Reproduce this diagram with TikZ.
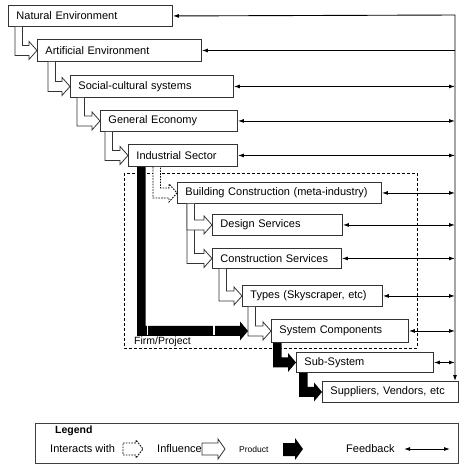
\documentclass[tikz,border=0pt]{standalone}
\usepackage{fontspec}
\setmainfont{Liberation Sans}
\usetikzlibrary{calc,arrows.meta}

\tikzset{
  blk/.style={draw=black!80, line width=0.9pt, anchor=north west, inner xsep=8pt, inner ysep=0pt,
    align=left, font=\fontsize{11}{13}\selectfont},
  lbl/.style={anchor=west, inner sep=0pt, font=\fontsize{11}{13}\selectfont},
  fb/.style={line width=0.9pt, {Latex[length=6pt,width=4pt]}-{Latex[length=6pt,width=4pt]}},
  fbin/.style={line width=0.9pt, {Latex[length=6pt,width=4pt]}-},
  infl/.style={draw=black!80, line width=0.8pt, fill=white, line join=miter},
  interact/.style={draw=black, line width=0.9pt, dash pattern=on 1.6pt off 1.2pt},
}

% hollow L arrow: outer x, parent, child
\newcommand{\hollowarr}[4][]{%
  \draw[infl,#1] let \p1=(#3.south), \p2=(#4.west) in
    (#2pt,\y1) -- (#2pt,\y2-5pt) -- (\x2-8pt,\y2-5pt) -- (\x2-8pt,\y2-9pt) -- (\p2)
    -- (\x2-8pt,\y2+9pt) -- (\x2-8pt,\y2+5pt) -- (#2pt+7.5pt,\y2+5pt) -- (#2pt+7.5pt,\y1);
}
% black L arrow: outer x, parent, tip
\newcommand{\prodarr}[3]{%
  \fill let \p1=(#2.south), \p2=(#3) in
    (#1pt,\y1) -- (#1pt,\y2-5pt) -- (\x2-8pt,\y2-5pt) -- (\x2-8pt,\y2-9.5pt) -- (\p2)
    -- (\x2-8pt,\y2+9.5pt) -- (\x2-8pt,\y2+5pt) -- (#1pt+8.5pt,\y2+5pt) -- (#1pt+8.5pt,\y1) -- cycle;
}

\begin{document}
\begin{tikzpicture}[x=1pt,y=-1pt]
  \useasboundingbox (0,0) rectangle (474,467);

  % levels
  \node[blk, text width=148pt, minimum height=21pt] (nat) at (8,5) {Natural Environment};
  \node[blk, text width=148pt, minimum height=22pt] (art) at (37,39) {Artificial Environment};
  \node[blk, text width=147pt, minimum height=22pt] (soc) at (70,75) {Social-cultural systems};
  \node[blk, text width=121pt, minimum height=21pt] (gen) at (100,110) {General Economy};
  \node[blk, text width=93pt, minimum height=22pt] (ind) at (128,144) {Industrial Sector};
  \node[blk, text width=188pt, minimum height=21pt] (bc) at (177,182) {Building Construction (meta-industry)};
  \node[blk, text width=114pt, minimum height=21pt] (ds) at (212,214) {Design Services};
  \node[blk, text width=113pt, minimum height=20pt] (cs) at (212,248) {Construction Services};
  \node[blk, text width=124pt, minimum height=21pt] (typ) at (242,285) {Types (Skyscraper, etc)};
  \node[blk, text width=121pt, minimum height=23pt] (sc) at (271,319) {System Components};
  \node[blk, text width=121pt, minimum height=20pt] (ss) at (296,352) {Sub-System};
  \node[blk, text width=120pt, minimum height=21pt] (sup) at (322,381) {Suppliers, Vendors, etc};

  % firm / project frame
  \draw[line width=1pt, dash pattern=on 3pt off 2pt] (124,173) rectangle (417,348);
  \node[anchor=south west, inner sep=1pt, font=\fontsize{10.5}{12}\selectfont] (firm) at (133,348) {Firm/Project};

  % influence
  \hollowarr{15}{nat}{art}
  \hollowarr{48}{art}{soc}
  \hollowarr{77}{soc}{gen}
  \hollowarr{105}{gen}{ind}
  \hollowarr[interact]{153}{ind}{bc}
  \hollowarr{187}{bc}{cs}
  \hollowarr{187}{bc}{ds}
  \hollowarr{219}{cs}{typ}
  \hollowarr{248}{typ}{sc}

  % product
  \coordinate (hx) at (248,0);
  \prodarr{137}{ind}{sc.west -| hx}
  \draw[white, line width=1.2pt] (147.5,321) -- (147.5,335) (214,321) -- (214,335);
  \prodarr{273}{sc}{ss.west}
  \prodarr{299}{ss}{sup.west}

  % feedback
  \coordinate (top) at (455,15);
  \draw[fb] (nat.east) -- (top) -- (top |- sup.north);
  \draw[fbin] (art.east) -- (art.east -| top);
  \foreach \n in {soc,gen,ind,bc,ds,cs,typ,sc,ss}
    \draw[fb] (\n.east) -- (\n.east -| top);

  % legend
  \draw[black!75, line width=0.8pt] (35,423) rectangle (458,463);
  \node[lbl, font=\bfseries\fontsize{10.5}{12}\selectfont] (lgd) at (55,431) {Legend};
  \node[lbl] (lint) at (50,449) {Interacts with};
  \draw[infl, interact] (123,443) -- (136,443) -- (136,440) -- (143,449) -- (136,458) -- (136,455) -- (123,455) -- cycle;
  \node[lbl] (linf) at (157,449) {Influence};
  \draw[infl] (202,443) -- (218,443) -- (218,439) -- (225,449) -- (218,459) -- (218,455) -- (202,455) -- cycle;
  \node[lbl, font=\fontsize{8.5}{10}\selectfont] (lprod) at (239,449) {Product};
  \fill (283,443) rectangle (295,456) (295,438) -- (303,449) -- (295,460) -- cycle;
  \node[lbl] (lfb) at (346,449) {Feedback};
  \draw[fb] (404,449) -- (450,449);
\end{tikzpicture}
\end{document}
